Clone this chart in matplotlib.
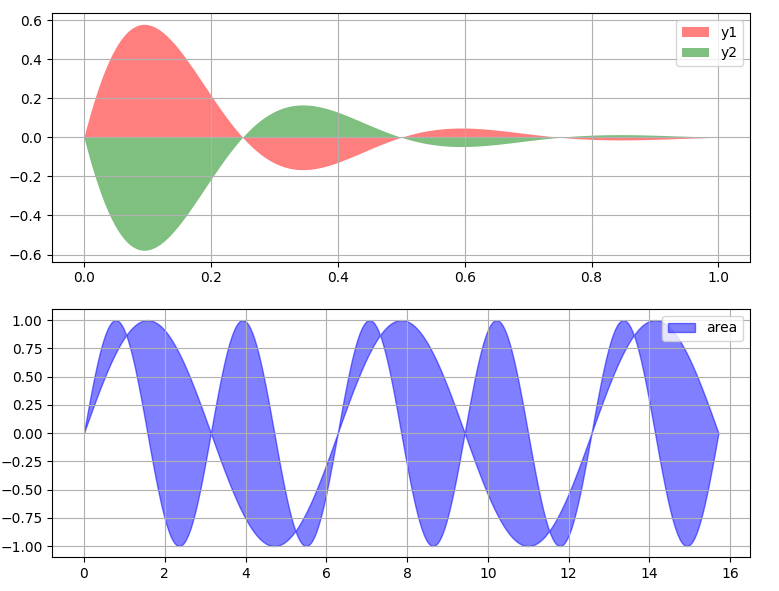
import numpy as np
import matplotlib
matplotlib.use("Agg")
import matplotlib.pyplot as plt

# data
x_top = np.linspace(0, 1, 500)
freq_top = 4 * np.pi
decay_top = 5.0
y1 = np.sin(freq_top * x_top) * np.exp(-decay_top * x_top)
y2 = -y1

x_bot = np.linspace(0, 5 * np.pi, 500)
ya = np.sin(x_bot)
yb = np.sin(2 * x_bot)

fig, (ax1, ax2) = plt.subplots(2, 1, figsize=(7.79, 5.91), dpi=100)
fig.subplots_adjust(left=0.067, right=0.963, top=0.978, bottom=0.057, hspace=0.19)

ax1.fill_between(x_top, y1, color='red', alpha=0.5, label='y1', linewidth=0)
ax1.fill_between(x_top, y2, color='green', alpha=0.5, label='y2', linewidth=0)
ax1.grid(True)
ax1.legend(loc='upper right')
ax1.set_yticks([-0.6, -0.4, -0.2, 0.0, 0.2, 0.4, 0.6])

ax2.fill_between(x_bot, ya, yb, color='blue', alpha=0.5, label='area')
ax2.grid(True)
ax2.legend(loc='upper right')
ax2.set_xticks(range(0, 17, 2))
ax2.set_yticks(np.arange(-1, 1.01, 0.25))

fig.savefig('out.png', dpi=100)
